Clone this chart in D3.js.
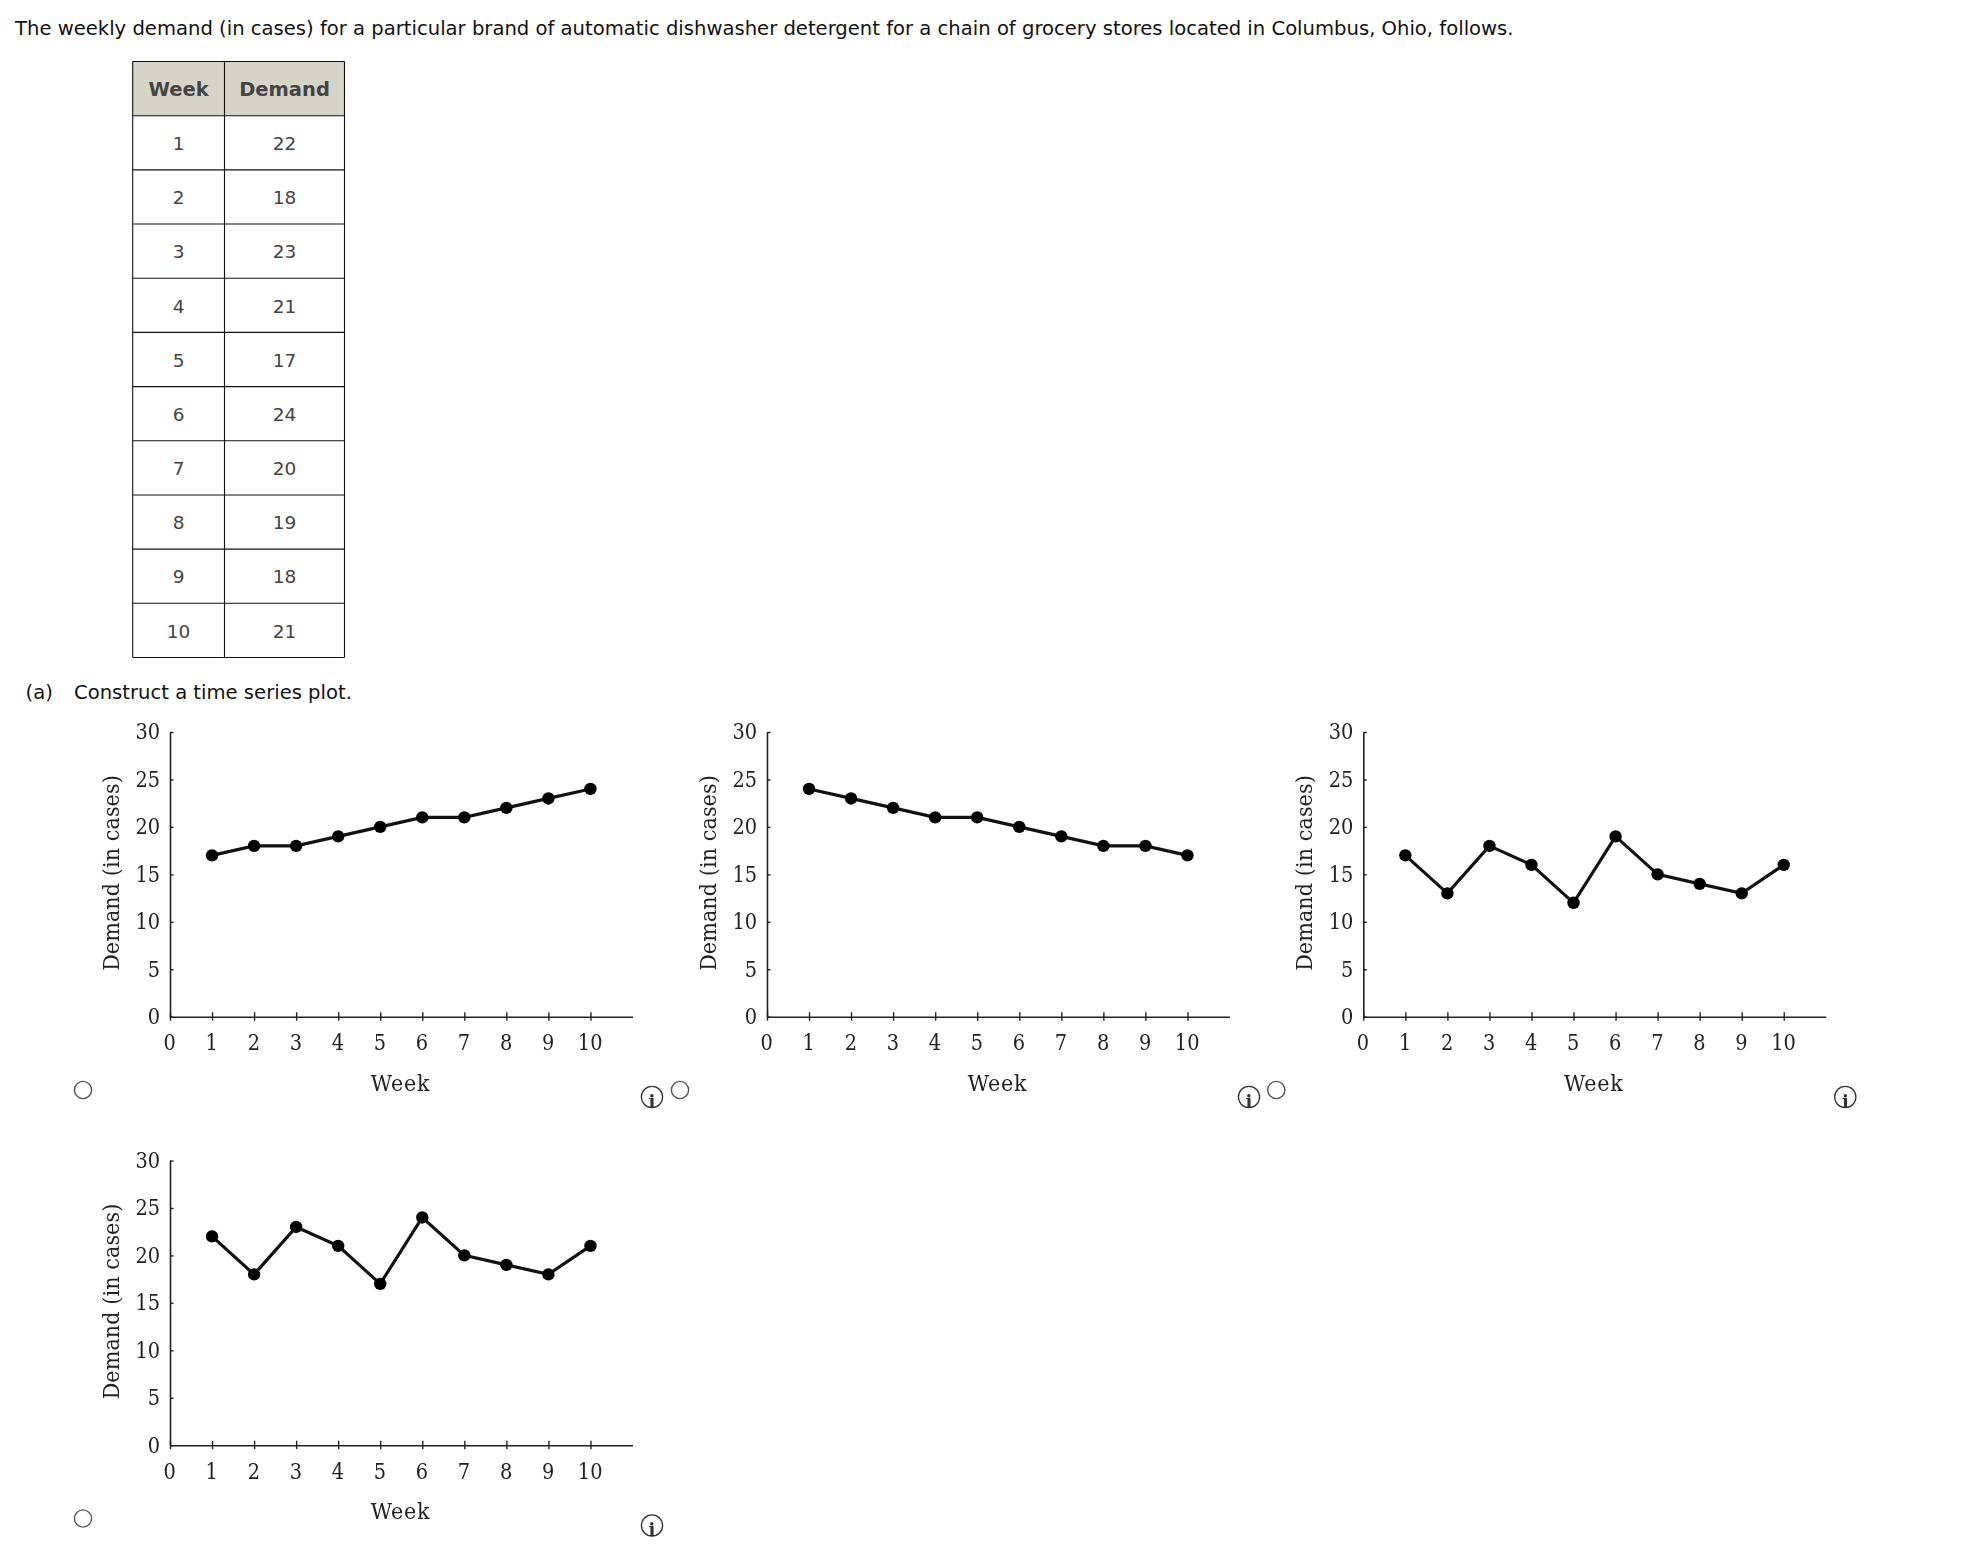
<!DOCTYPE html>
<html><head><meta charset="utf-8">
<script src="https://cdn.jsdelivr.net/npm/d3@7"></script>
<style>html,body{margin:0;padding:0;background:#fff}svg{display:block}.plot{filter:blur(.35px)}</style></head>
<body><div id="c"></div>
<script>
const weeks=[1,2,3,4,5,6,7,8,9,10];
const tableDemand=[22,18,23,21,17,24,20,19,18,21];
const seriesA=[17,18,18,19,20,21,21,22,23,24];
const seriesB=[24,23,22,21,21,20,19,18,18,17];
const seriesC=[17,13,18,16,12,19,15,14,13,16];
const seriesD=[22,18,23,21,17,24,20,19,18,21];
const yTicks=[0,5,10,15,20,25,30];
const xTicks=[0,1,2,3,4,5,6,7,8,9,10];
const intro="The weekly demand (in cases) for a particular brand of automatic dishwasher detergent for a chain of grocery stores located in Columbus, Ohio, follows.";
const tableHead=["Week","Demand"];
const sans="'DejaVu Sans',Verdana,sans-serif";
const serif="'DejaVu Serif','Liberation Serif',serif";
const serifAttrs=(s,size)=>s.attr("font-family",serif).style("font-stretch","condensed").attr("font-size",size).attr("fill","#222");
const svg=d3.select("#c").append("svg").attr("width",1972).attr("height",1564);
svg.append("text").attr("x",15).attr("y",34.5).attr("font-family",sans).attr("font-size",19.6).attr("fill","#111").text(intro);

// table
const colX=[132.7,224.5,344.5];
const rowY=d3.scaleLinear().domain([0,11]).range([61.5,657.5]);
const t=svg.append("g");
t.append("rect").attr("x",colX[0]).attr("y",rowY(0)).attr("width",colX[2]-colX[0]).attr("height",rowY(1)-rowY(0)).attr("fill","#d6d3c8");
d3.range(12).forEach(i=>t.append("line").attr("x1",colX[0]).attr("x2",colX[2]).attr("y1",rowY(i)).attr("y2",rowY(i)).attr("stroke","#111").attr("stroke-width",1.1));
d3.range(3).forEach(i=>t.append("line").attr("x1",colX[i]).attr("x2",colX[i]).attr("y1",rowY(0)).attr("y2",rowY(11)).attr("stroke","#111").attr("stroke-width",1.1));
const cell=(c,r,s,b)=>t.append("text").attr("x",(colX[c]+colX[c+1])/2).attr("y",(rowY(r)+rowY(r+1))/2+7.2)
  .attr("text-anchor","middle").attr("font-family",sans).attr("font-size",b?19.5:18.5).attr("font-weight",b?"bold":"normal").attr("fill","#444").text(s);
tableHead.forEach((h,i)=>cell(i,0,h,true));
weeks.forEach((w,i)=>{cell(0,i+1,w);cell(1,i+1,tableDemand[i]);});

svg.append("text").attr("x",25.5).attr("y",699).attr("font-family",sans).attr("font-size",19.6).attr("fill","#111").text("(a)");
svg.append("text").attr("x",74).attr("y",699).attr("font-family",sans).attr("font-size",19.6).attr("fill","#111").text("Construct a time series plot.");

function info(g,x,y){
  g.append("circle").attr("cx",x).attr("cy",y).attr("r",10.6).attr("fill","#fff").attr("stroke","#333").attr("stroke-width",1.3);
  g.append("text").attr("x",x).attr("y",y+10.6).attr("text-anchor","middle").attr("font-family","'DejaVu Serif',serif").attr("font-weight","bold").attr("font-size",18).attr("fill","#333").text("i");
}
function plot(values,dx,dy){
  const g=svg.append("g").attr("class","plot");
  const x=d3.scaleLinear().domain([0,11]).range([170+dx,632.5+dx]);
  const y=d3.scaleLinear().domain([0,30]).range([1016.7+dy,732+dy]);
  const ya=g.append("g").attr("transform",`translate(${x(0)},0)`).call(d3.axisLeft(y).tickValues(yTicks).tickSize(5).tickSizeOuter(0).tickPadding(5));
  const xa=g.append("g").attr("transform",`translate(0,${y(0)})`).call(d3.axisBottom(x).tickValues(xTicks).tickSize(4).tickSizeOuter(0).tickPadding(14.2));
  xa.selectAll(".tick line").attr("y1",-4.5);
  ya.selectAll(".tick line").attr("x2",3.5);
  [ya,xa].forEach(a=>{a.selectAll("path").attr("stroke","#222").attr("stroke-width",1.6);
    a.selectAll("line").attr("stroke","#222").attr("stroke-width",1.4);
    a.selectAll("text").call(serifAttrs,21.5);});
  xa.selectAll("text").attr("x",-0.8);
  g.append("path").datum(values).attr("fill","none").attr("stroke","#111").attr("stroke-width",3.2)
    .attr("d",d3.line().x((d,i)=>x(weeks[i])).y(d=>y(d)));
  g.selectAll("circle.pt").data(values).join("circle").attr("class","pt").attr("cx",(d,i)=>x(weeks[i])).attr("cy",d=>y(d)).attr("r",6.2).attr("fill","#000");
  g.append("text").attr("transform",`translate(${x(0)-51.5},${873+dy}) rotate(-90)`).attr("text-anchor","middle").call(serifAttrs,23).attr("letter-spacing",0.1).text("Demand (in cases)");
  g.append("text").attr("x",400.5+dx).attr("y",1090.7+dy).attr("text-anchor","middle").call(serifAttrs,23).attr("letter-spacing",0.8).text("Week");
  g.append("circle").attr("cx",83+dx).attr("cy",1090+dy).attr("r",8.6).attr("fill","#fff").attr("stroke","#555").attr("stroke-width",1.4);
  info(g,652+dx,1097+dy);
}
plot(seriesA,0,0);
plot(seriesB,597,0);
plot(seriesC,1193.3,0);
plot(seriesD,0,428.5);
</script></body></html>
